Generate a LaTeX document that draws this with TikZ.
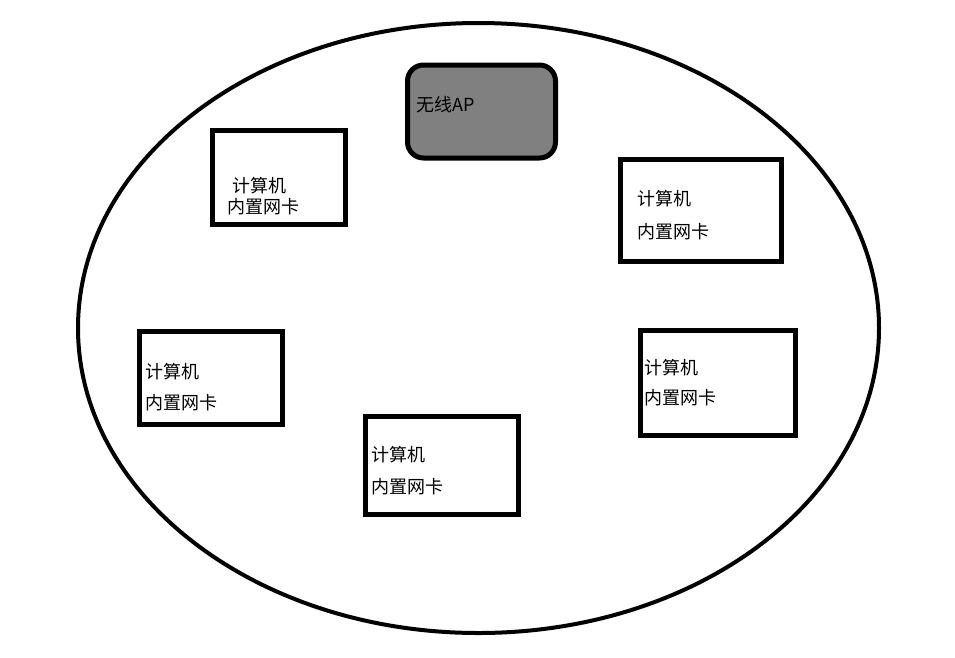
\documentclass[tikz,border=0pt]{standalone}
\usepackage{fontspec}
\usetikzlibrary{shapes.geometric}
\newfontfamily\cjk{Noto Sans CJK SC}
\begin{document}
\begin{tikzpicture}[x=1pt,y=-1pt,
  box/.style={draw=black,line width=5pt,fill=white,inner sep=0pt,rectangle},
  apbox/.style={draw=black,line width=5pt,fill=gray,inner sep=0pt,rectangle,rounded corners=16pt},
  lbl/.style={anchor=west,inner sep=0pt,font=\cjk\fontsize{18}{18}\selectfont}]
\useasboundingbox (0,0) rectangle (955,657);
\node[draw=black,line width=4pt,ellipse,minimum width=801pt,minimum height=610pt,inner sep=0pt] (net) at (478.5,328) {};
\node[apbox,minimum width=148pt,minimum height=93pt] (ap) at (481.5,111.5) {};
\node[lbl] (aplbl) at (416,105) {无线AP};
\node[box,minimum width=133pt,minimum height=94.5pt] (c1) at (279,177.25) {};
\node[box,minimum width=161.5pt,minimum height=102.5pt] (c2) at (700.75,210.25) {};
\node[box,minimum width=143pt,minimum height=93.5pt] (c3) at (210.5,377.75) {};
\node[box,minimum width=155pt,minimum height=105.5pt] (c4) at (717.5,382.75) {};
\node[box,minimum width=153pt,minimum height=98pt] (c5) at (441.5,465) {};
\node[lbl] (c1a) at (232,186) {计算机};
\node[lbl] (c1b) at (227,207) {内置网卡};
\node[lbl] (c2a) at (637,199) {计算机};
\node[lbl] (c2b) at (637,232) {内置网卡};
\node[lbl] (c3a) at (145,372) {计算机};
\node[lbl] (c3b) at (145,403) {内置网卡};
\node[lbl] (c4a) at (644,368) {计算机};
\node[lbl] (c4b) at (644,398) {内置网卡};
\node[lbl] (c5a) at (371,455) {计算机};
\node[lbl] (c5b) at (371,487) {内置网卡};
\end{tikzpicture}
\end{document}
